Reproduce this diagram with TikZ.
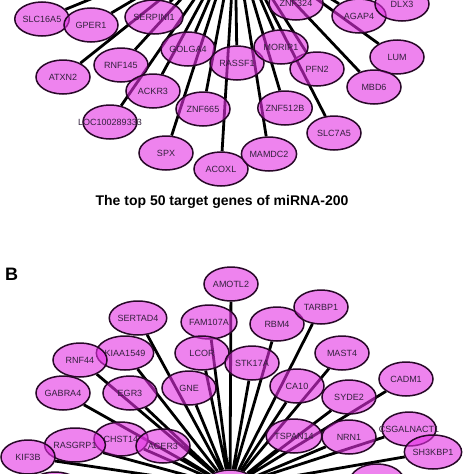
\documentclass[tikz,border=0pt]{standalone}
\usepackage{fontspec}
\setmainfont{Liberation Sans}
\usetikzlibrary{shapes.geometric,backgrounds}
\definecolor{genefill}{RGB}{226,48,226}
\definecolor{generim}{RGB}{40,8,40}
\definecolor{genetext}{RGB}{52,32,62}
\begin{document}
\begin{tikzpicture}[x=1pt,y=-1pt,
  gene/.style={ellipse,draw=generim,line width=1.5pt,fill=genefill,fill opacity=0.6,draw opacity=1,text opacity=1,minimum width=54pt,minimum height=34pt,inner sep=0pt,text=genetext,font=\fontsize{9}{10}\selectfont},
  link/.style={line width=2.8pt,black}]
  \useasboundingbox (0,0) rectangle (474,474);
  % panel A
  \node[gene] (hubA) at (235,-60) {};
  \node[gene] (SLC16A5) at (42,19) {SLC16A5};
  \node[gene] (GPER1) at (91,25) {GPER1};
  \node[gene] (SERPINI1) at (154,17) {SERPINI1};
  \node[gene] (GOLGA4) at (188,49) {GOLGA4};
  \node[gene] (RASSF1) at (237,63) {RASSF1};
  \node[gene] (ATXN2) at (63,77) {ATXN2};
  \node[gene] (RNF145) at (121,65) {RNF145};
  \node[gene] (ACKR3) at (153,91) {ACKR3};
  \node[gene] (ZNF665) at (203,109) {ZNF665};
  \node[gene] (LOC100289333) at (110,122) {\makebox[0pt]{LOC100289333}};
  \node[gene] (SPX) at (166,153) {SPX};
  \node[gene] (ACOXL) at (221,169) {ACOXL};
  \node[gene] (MAMDC2) at (269,154) {MAMDC2};
  \node[gene] (SLC7A5) at (334,133) {SLC7A5};
  \node[gene] (ZNF512B) at (285,108) {ZNF512B};
  \node[gene] (PFN2) at (317,69) {PFN2};
  \node[gene] (MORIP1) at (281,47) {MORIP1};
  \node[gene] (ZNF324) at (296,3) {ZNF324};
  \node[gene] (AGAP4) at (359,16) {AGAP4};
  \node[gene] (DLX3) at (402,4) {DLX3};
  \node[gene] (LUM) at (397,57) {LUM};
  \node[gene] (MBD6) at (374,87) {MBD6};
  \node[font=\bfseries\fontsize{14}{16}\selectfont,anchor=base] (titleA) at (222,205) {The top 50 target genes of miRNA-200};
  % panel B
  \node[font=\bfseries\fontsize{18}{20}\selectfont,anchor=base west,inner sep=0pt] (panelB) at (5,280) {B};
  \node[gene] (hubB) at (230,487) {};
  \node[gene] (AMOTL2) at (231,284) {AMOTL2};
  \node[gene] (SERTAD4) at (138,318) {SERTAD4};
  \node[gene] (FAM107A) at (209,322) {FAM107A};
  \node[gene] (KIAA1549) at (125,353) {KIAA1549};
  \node[gene] (LCOR) at (202,353) {LCOR};
  \node[gene] (RNF44) at (80,360) {RNF44};
  \node[gene] (RBM4) at (277,324) {RBM4};
  \node[gene] (TARBP1) at (321,307) {TARBP1};
  \node[gene] (MAST4) at (342,353) {MAST4};
  \node[gene] (STK17A) at (252,363) {STK17A};
  \node[gene] (GABRA4) at (63,393) {GABRA4};
  \node[gene] (EGR3) at (130,393) {EGR3};
  \node[gene] (GNE) at (189,388) {GNE};
  \node[gene] (CA10) at (297,386) {CA10};
  \node[gene] (SYDE2) at (349,397) {SYDE2};
  \node[gene] (CADM1) at (406,379) {CADM1};
  \node[gene] (CHST14) at (121,439) {CHST14};
  \node[gene] (RASGRP1) at (75,445) {RASGRP1};
  \node[gene] (ACER3) at (163,446) {ACER3};
  \node[gene] (KIF3B) at (28,457) {KIF3B};
  \node[gene] (TSPAN14) at (294,436) {TSPAN14};
  \node[gene] (NRN1) at (349,437) {NRN1};
  \node[gene] (CSGALNACT1) at (409,429) {\makebox[0pt]{CSGALNACT1}};
  \node[gene] (SH3KBP1) at (433,452) {SH3KBP1};
  \node[gene] (cutL) at (55,489) {};
  \node[gene] (cutR) at (377,481) {};
  \begin{pgfonlayer}{background}
    \draw[link] (hubA) -- (SLC16A5) (hubA) -- (GPER1) (hubA) -- (SERPINI1) (hubA) -- (GOLGA4)
      (hubA) -- (RASSF1) (hubA) -- (ATXN2) (hubA) -- (RNF145) (hubA) -- (ACKR3)
      (hubA) -- (ZNF665) (hubA) -- (LOC100289333) (hubA) -- (SPX) (hubA) -- (ACOXL);
    \draw[link] (hubA) -- (MAMDC2) (hubA) -- (SLC7A5) (hubA) -- (ZNF512B) (hubA) -- (PFN2)
      (hubA) -- (MORIP1) (hubA) -- (ZNF324) (hubA) -- (AGAP4) (hubA) -- (DLX3)
      (hubA) -- (LUM) (hubA) -- (MBD6);
    \draw[link] (hubB) -- (AMOTL2) (hubB) -- (SERTAD4) (hubB) -- (FAM107A) (hubB) -- (KIAA1549)
      (hubB) -- (LCOR) (hubB) -- (RNF44) (hubB) -- (RBM4) (hubB) -- (TARBP1)
      (hubB) -- (MAST4) (hubB) -- (STK17A) (hubB) -- (GABRA4) (hubB) -- (EGR3) (hubB) -- (GNE);
    \draw[link] (hubB) -- (CA10) (hubB) -- (SYDE2) (hubB) -- (CADM1) (hubB) -- (CHST14)
      (hubB) -- (RASGRP1) (hubB) -- (ACER3) (hubB) -- (KIF3B) (hubB) -- (TSPAN14)
      (hubB) -- (NRN1) (hubB) -- (CSGALNACT1) (hubB) -- (SH3KBP1) (hubB) -- (cutL) (hubB) -- (cutR);
  \end{pgfonlayer}
\end{tikzpicture}
\end{document}
